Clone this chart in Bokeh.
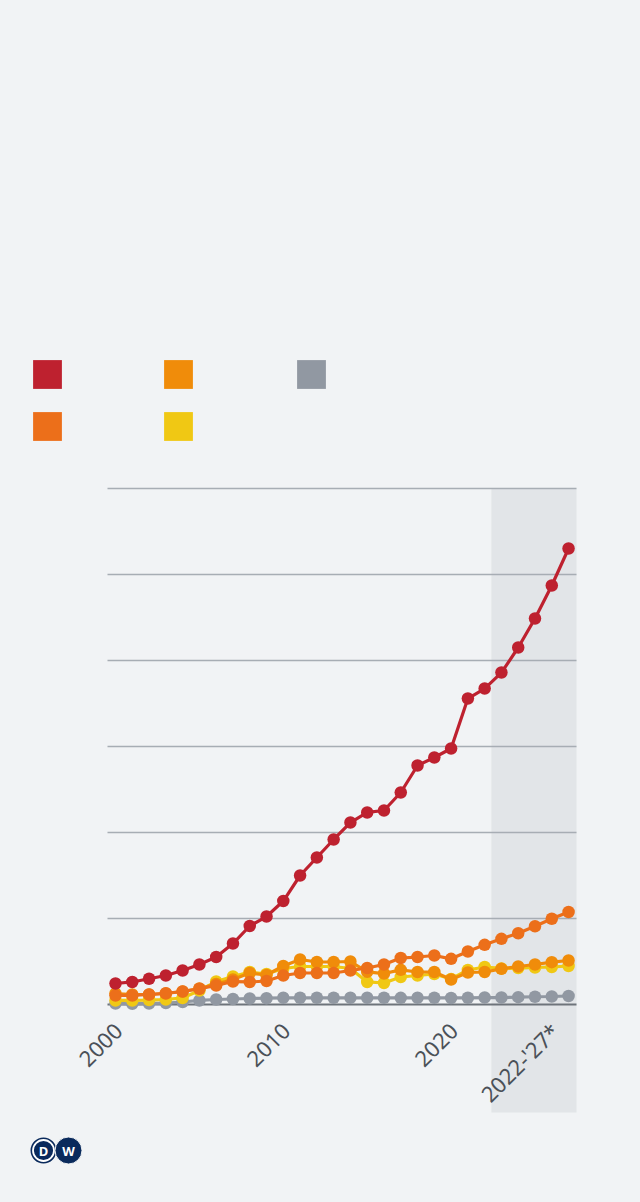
import math
from bokeh.plotting import figure
from bokeh.models import Range1d, BoxAnnotation, Legend, LegendItem
from bokeh.core.properties import value
from bokeh.embed import file_html
from bokeh.resources import INLINE

# ---------------- data ----------------
years = list(range(2000, 2028))

series_red = [2.44, 2.62, 2.99, 3.37, 3.95, 4.65, 5.52, 7.09, 9.13, 10.23, 12.03, 15.00, 17.09, 19.19,
              21.16, 22.33, 22.56, 24.65, 27.79, 28.72, 29.77, 35.58, 36.74, 38.60, 41.51, 44.88, 48.72, 53.02]
series_darkorange = [1.05, 1.05, 1.16, 1.31, 1.51, 1.83, 2.21, 2.67, 2.62, 2.73, 3.37, 3.66, 3.66, 3.66,
                     3.95, 4.24, 4.65, 5.41, 5.52, 5.70, 5.31, 6.16, 6.94, 7.64, 8.28, 9.10, 9.97, 10.76]
series_orange = [1.28, 1.16, 1.16, 1.28, 1.51, 1.86, 2.38, 2.91, 3.66, 3.43, 4.48, 5.23, 4.94, 4.94,
                 5.00, 3.80, 3.60, 4.03, 3.78, 3.78, 2.91, 3.72, 3.78, 4.15, 4.42, 4.65, 4.92, 5.12]
series_yellow = [0.47, 0.47, 0.52, 0.58, 0.76, 1.63, 2.67, 3.26, 3.78, 3.55, 4.19, 4.42, 4.42, 4.42,
                 4.19, 2.62, 2.50, 3.20, 3.37, 3.55, 2.97, 4.01, 4.36, 4.19, 4.24, 4.30, 4.36, 4.48]
series_gray = [0.12, 0.08, 0.12, 0.17, 0.29, 0.47, 0.58, 0.64, 0.70, 0.73, 0.78, 0.78, 0.78, 0.78,
               0.78, 0.78, 0.78, 0.78, 0.78, 0.78, 0.76, 0.78, 0.81, 0.81, 0.85, 0.90, 0.93, 0.99]

grid_values = [10, 20, 30, 40, 50, 60]
tick_years = [2000, 2010, 2020, 2026]
tick_labels = ["2000", "2010", "2020", "2022-'27*"]
forecast_start = 2022.4

# ---------------- styles / layout ----------------
BG = "#f1f3f5"
C_RED = "#be212f"
C_DORANGE = "#ec6f1a"
C_ORANGE = "#f08c0a"
C_YELLOW = "#f0c814"
C_GRAY = "#9198a2"
C_LOGO = "#0a2a5c"

W, H = 624, 1186
PAGE = 0                       # figure origin on the page
PX_PER_YEAR = 16.78
PX_PER_UNIT = 8.6
X_ZERO_PX, Y_ZERO_PX = 115, 1004   # page pixel of (2000, 0)

def px_x(px):
    return 2000 + (px - X_ZERO_PX) / PX_PER_YEAR

def px_y(py):
    return (Y_ZERO_PX - py) / PX_PER_UNIT

plot_left, plot_right = px_x(107), px_x(576)
plot_bottom = px_y(1112)

p = figure(width=W, height=H, output_backend="svg", toolbar_location=None,
           x_range=Range1d(px_x(PAGE), px_x(PAGE + W)),
           y_range=Range1d(px_y(PAGE + H), px_y(PAGE)),
           x_axis_location=None, y_axis_location=None,
           min_border_left=0, min_border_right=0, min_border_top=0, min_border_bottom=0)
p.title.visible = False
p.grid.visible = False
p.outline_line_color = None
p.background_fill_color = BG
p.border_fill_color = BG

# forecast shading
p.add_layout(BoxAnnotation(left=forecast_start, right=plot_right, top=grid_values[-1], bottom=plot_bottom,
                           fill_color="#e2e5e8", fill_alpha=1, line_color=None, level="underlay"))
# grid lines and baseline
p.segment(x0=[plot_left] * len(grid_values), x1=[plot_right] * len(grid_values),
          y0=grid_values, y1=grid_values, line_color="#a7adb4", line_width=1.3)
p.segment(x0=[plot_left], x1=[plot_right], y0=[0], y1=[0], line_color="#6e747b", line_width=2)

# series (bottom to top)
for vals, col in [(series_gray, C_GRAY), (series_yellow, C_YELLOW), (series_orange, C_ORANGE),
                  (series_darkorange, C_DORANGE), (series_red, C_RED)]:
    p.line(years, vals, line_color=col, line_width=3.2)
    p.scatter(years, vals, size=12.5, fill_color=col, line_color=None)

# x labels
label_y = [px_y(Y_ZERO_PX + 22.5)] * len(tick_years)
p.text(x=tick_years, y=label_y, text=tick_labels, angle=math.pi / 4, x_offset=3,
       text_align="right", text_baseline="middle", text_font=value("Noto Sans"),
       text_font_size="22px", text_color="#4b5158")

# legend swatches (renderers with no visible geometry, only used for the legend)
NAN = float("nan")
def swatch(col):
    return p.quad(left=[NAN], right=[NAN], top=[NAN], bottom=[NAN], fill_color=col, line_color=None)

r_red, r_orange, r_gray, r_dorange, r_yellow = [swatch(c) for c in
                                               (C_RED, C_ORANGE, C_GRAY, C_DORANGE, C_YELLOW)]

def make_legend(renderers, loc):
    return Legend(items=[LegendItem(label=value(" "), renderers=[r]) for r in renderers],
                  orientation="horizontal", location=loc, glyph_width=36, glyph_height=36,
                  label_width=95, label_standoff=0, spacing=0, padding=0, margin=0,
                  border_line_color=None, background_fill_alpha=0, label_text_font_size="12px")

p.add_layout(make_legend([r_red, r_orange], (29.4 - PAGE, PAGE + H - 392.4)))
p.add_layout(make_legend([r_gray], (293.4 - PAGE, PAGE + H - 392.4)))
p.add_layout(make_legend([r_dorange, r_yellow], (29.4 - PAGE, PAGE + H - 444.4)))

# DW logo
p.scatter([px_x(43)], [px_y(1150)], size=26, fill_color=C_LOGO, line_color=None)
p.scatter([px_x(43)], [px_y(1150)], size=21, fill_color=None, line_color="white", line_width=1.8)
p.scatter([px_x(68)], [px_y(1150)], size=27, fill_color=C_LOGO, line_color=BG, line_width=1)
p.text(x=[px_x(43), px_x(68)], y=[px_y(1150), px_y(1150)], text=["D", "W"],
       text_align="center", text_baseline="middle", text_font=value("Noto Sans"),
       text_font_style="bold", text_font_size="13px", text_color="white")

html = file_html(p, INLINE)
html = html.replace("</head>", "<style>html, body { background-color: #f1f3f5; }</style></head>", 1)
open("out.html", "w").write(html)
